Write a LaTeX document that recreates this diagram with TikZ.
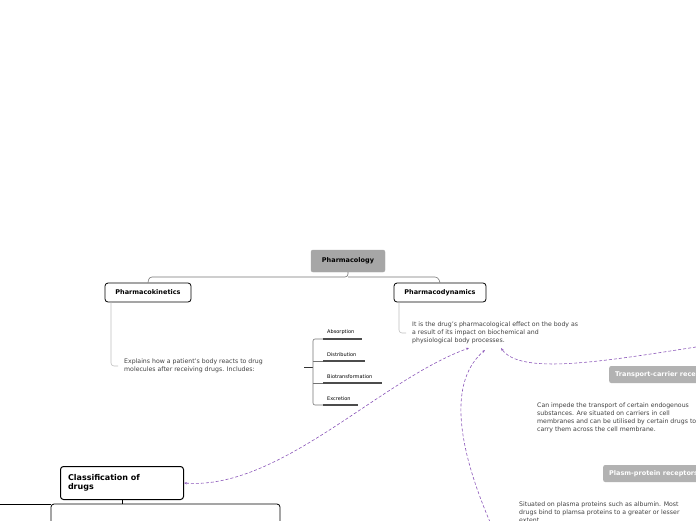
\documentclass[tikz,border=0pt]{standalone}
\usepackage{fontspec}
\setmainfont{DejaVu Sans}
\usetikzlibrary{arrows.meta}
\definecolor{purp}{HTML}{8A55B8}
\begin{document}
\begin{tikzpicture}[x=1pt,y=-1pt,
 main/.style={rounded corners=2pt,fill=black!35,draw=black!35,text=black,font=\fontsize{6.5}{7}\selectfont\bfseries,minimum width=74pt,minimum height=22pt},
 sub/.style={rounded corners=3pt,draw=black,thick,fill=white,font=\fontsize{6.5}{7}\selectfont\bfseries,minimum height=19pt,inner xsep=6pt},
 gbox/.style={rounded corners=2pt,fill=black!30,text=white,font=\fontsize{6.5}{7}\selectfont\bfseries,minimum height=17pt,anchor=west,inner xsep=6pt},
 desc/.style={anchor=north west,align=left,text=black!75,font=\fontsize{6.2}{8}\selectfont,inner sep=0pt},
 lbl/.style={anchor=south west,font=\fontsize{5}{6}\selectfont,inner sep=1pt},
 bar/.style={line width=2.5pt,black!70},
 rel/.style={draw=purp,densely dashed,line width=0.6pt,{Stealth[length=3pt]}-{Stealth[length=3pt]}},
 rel1/.style={draw=purp,densely dashed,line width=0.6pt,-{Stealth[length=3pt]}},
 conn/.style={draw=black!55,line width=0.6pt,rounded corners=3pt}]
\useasboundingbox (0,0) rectangle (696,520);
\node[main] (ph) at (348,261) {Pharmacology};
\node[sub,minimum width=86pt] (pk) at (148,292.5) {Pharmacokinetics};
\node[sub,minimum width=92pt] (pd) at (440,292.5) {Pharmacodynamics};
\draw[conn] (ph.south) -- (348,277) -- (149,277) -- (pk.north);
\draw[conn] (348,277) -- (438,277) -- (pd.north);
\draw[conn,draw=black!25] ([xshift=-37pt]pk.south) -- (111,366) -- (118,366);
\node[desc] (pkt) at (124,359) {Explains how a patient's body reacts to drug\\molecules after receiving drugs. Includes:};
\draw[conn,draw=black!25] ([xshift=-41pt]pd.south) -- (399,333) -- (406,333);
\node[desc] (pdt) at (412,322) {It is the drug's pharmacological effect on the body as\\a result of its impact on biochemical and\\physiological body processes.};
\coordinate (br) at (313,367);
\draw[black!80,line width=0.6pt] (304,367) -- (br);
\draw[black!55,line width=0.6pt,rounded corners=2pt] (323,339) -- (313,339) -- (313,405) -- (323,405);
\draw[black!55,line width=0.6pt] (313,361) -- (323,361) (313,383) -- (323,383);
\draw[bar] (323,339) -- (362,339); \node[lbl] at (326,336) {Absorption};
\draw[bar] (323,361) -- (365,361); \node[lbl] at (326,358) {Distribution};
\draw[bar] (323,383) -- (382,383); \node[lbl] at (326,380) {Biotransformation};
\draw[bar] (323,405) -- (358,405); \node[lbl] at (326,402) {Excretion};
\node[sub,line width=1pt,minimum width=123pt,minimum height=33pt,align=left,font=\fontsize{8}{9.5}\selectfont\bfseries,anchor=north west,text width=108pt] (cl) at (60,466) {Classification of\\drugs};
\draw[black,line width=0.8pt,rounded corners=3pt] (51,522) -- (51,504) -- (280,504) -- (280,522);
\draw[black,line width=0.8pt] (cl.south) -- (122,504);
\draw[black,line width=0.8pt] (0,504) -- (51,504);
\node[gbox] (tc) at (609,374.5) {Transport-carrier receptors};
\node[desc] (tct) at (537,403) {Can impede the transport of certain endogenous\\substances. Are situated on carriers in cell\\membranes and can be utilised by certain drugs to\\carry them across the cell membrane.};
\node[gbox] (pp) at (603,473.5) {Plasm-protein receptors};
\node[desc] (ppt) at (519,502) {Situated on plasma proteins such as albumin. Most\\drugs bind to plamsa proteins to a greater or lesser\\extent.};
\coordinate (e1) at (696,347);
\coordinate (e2) at (490,522);
\draw[rel] (cl.east) .. controls (280,490) and (380,380) .. (469,348);
\draw[rel1] (e1) .. controls (600,362) and (520,375) .. (501,348);
\draw[rel1] (e2) .. controls (455,440) and (450,380) .. (485,350);
\end{tikzpicture}
\end{document}
